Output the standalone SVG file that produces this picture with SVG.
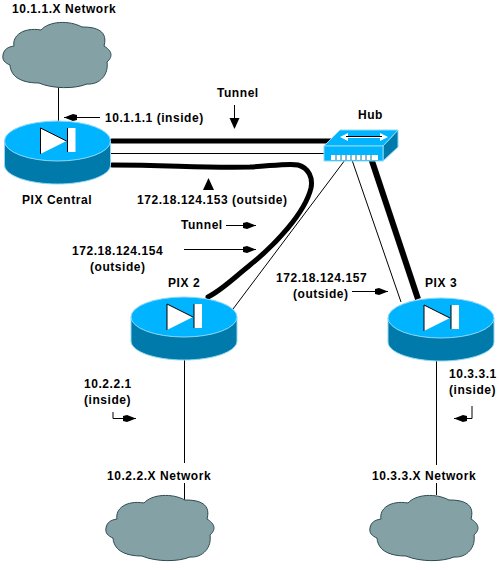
<svg xmlns="http://www.w3.org/2000/svg" xmlns:xlink="http://www.w3.org/1999/xlink" width="499" height="570" viewBox="0 0 499 570">
<style>
text{font-family:"Liberation Sans",Arial,sans-serif;font-weight:bold;font-size:12px;fill:#000;letter-spacing:.55px}
.thin{fill:none;stroke:#000;stroke-width:1}
.arrow{fill:none;stroke:#000;stroke-width:1;marker-end:url(#head)}
.thick{fill:none;stroke:#000;stroke-width:5;stroke-linecap:round;stroke-linejoin:round}
.cloud{fill:#84a1a5;stroke:#2c4a50;stroke-width:1}
.top{fill:#00b4ff;stroke:#8fd8f5;stroke-width:1}
.side{fill:#0079ab;stroke:#8fd8f5;stroke-width:1}
.w{fill:#fff}
</style>
<defs>
<marker id="head" markerUnits="userSpaceOnUse" markerWidth="14" markerHeight="10" refX="13" refY="4" orient="auto"><path d="M0,1.500 L4,0.600 L13,4 L4,7.400 L0,6.500Z" fill="#000"/></marker>
<path id="cloudshape" class="cloud" d="M0,33 C1,27 5,25 11,24 C9,14 20,5 38,8 C46,-1 66,-2 79,5 C88,5 106,6 101,24 C108,28 111,34 104,40 C106,52 97,63 84,62 C72,67 50,67 36,61 C22,61 8,57 7,43 C2,41 -1,38 0,33Z"/>
<g id="pixshape">
<path class="side" d="M-53,0 L-53,24 C-53,35 -28,43 0,43 C28,43 53,35 53,24 L53,0Z"/>
<ellipse class="top" cx="0" cy="0" rx="53" ry="20"/>
<path class="w" d="M-17,-13 L9,0 L-17,13Z"/>
<path d="M-17,-13 L-17,13 M-17,-13 L9,0" fill="none" stroke="#000" stroke-width="1"/>
<rect class="w" x="10" y="-13" width="8" height="24"/>
<path d="M10,-13 V11" stroke="#000" stroke-width="1"/>
</g>
</defs>
<g id="connectors">
<path class="thin" d="M58.500,87 V122"/>
<path class="thick" d="M112,141 H332"/>
<path class="thin" d="M110,153.500 H325"/>
<path class="thick" d="M112,165 C170,165 200,168 250,167 C270,166 290,163 298,165 C309,168 313,178 311,188 C305,213 275,245 250,265 C235,277 222,290 208,297"/>
<path class="thin" d="M345,160 L233,309"/>
<path class="thin" d="M352,160 L401,302"/>
<path class="thick" style="stroke-width:6;stroke-linecap:butt" d="M371,158 L418,299"/>
<path class="thin" d="M184.500,359 V463 M184.500,483 V500"/>
<path class="thin" d="M436.500,360 V465 M436.500,483 V495"/>
<path class="arrow" d="M100,117.500 H64"/>
<path class="thin" d="M234.500,105 V120"/>
<path d="M229.500,118 H239.500 L234.500,129Z"/>
<path d="M208.500,178 L203,190 H214Z"/>
<path class="arrow" d="M226,225.500 H256"/>
<path class="arrow" d="M184,249.500 H256"/>
<path class="arrow" d="M352,291.500 H388"/>
<path class="arrow" d="M113,412 V418.500 H136"/>
<path class="arrow" d="M472,406 V418.500 H454"/>
</g>
<g id="cloud-central"><use xlink:href="#cloudshape" href="#cloudshape" transform="translate(3,22)"/><text x="12" y="13">10.1.1.X Network</text></g>
<g id="cloud-2"><use xlink:href="#cloudshape" href="#cloudshape" transform="translate(106,495)"/><text x="107" y="480">10.2.2.X Network</text></g>
<g id="cloud-3"><use xlink:href="#cloudshape" href="#cloudshape" transform="translate(370,495)"/><text x="372" y="480">10.3.3.X Network</text></g>
<g id="pix-central"><use xlink:href="#pixshape" href="#pixshape" transform="translate(57.500,141)"/><text x="22" y="204">PIX Central</text></g>
<g id="pix-2"><use xlink:href="#pixshape" href="#pixshape" transform="translate(184,317)"/><text x="168" y="287">PIX 2</text></g>
<g id="pix-3"><use xlink:href="#pixshape" href="#pixshape" transform="translate(441,318)"/><text x="425" y="287">PIX 3</text></g>
<g id="hub">
<path class="side" d="M383,146 L398,130 V147 L383,161Z"/>
<path class="top" d="M324,146 L340,130 H398 L383,146Z"/>
<rect class="top" x="324" y="146" width="59" height="15"/>
<path class="w" d="M331,155h47v5h-47z"/>
<path d="M336,155v5M341,155v5M346,155v5M351,155v5M356,155v5M361,155v5M366,155v5M371,155v5" stroke="#0079ab" stroke-width="1"/>
<path class="w" d="M340,137 L348,133 V136 H380 V133 L388,137 L380,141 V138 H348 V141Z"/>
<path d="M346,136.500 H382" stroke="#000" stroke-width="1"/>
<text x="358" y="119">Hub</text>
</g>
<g id="labels">
<text x="105" y="122">10.1.1.1 (inside)</text>
<text x="217" y="97">Tunnel</text>
<text x="137" y="204">172.18.124.153 (outside)</text>
<text x="181" y="229">Tunnel</text>
<text x="72" y="255">172.18.124.154</text>
<text x="90" y="271">(outside)</text>
<text x="276" y="282">172.18.124.157</text>
<text x="293" y="298">(outside)</text>
<text x="84" y="388">10.2.2.1</text>
<text x="84" y="404">(inside)</text>
<text x="449" y="378">10.3.3.1</text>
<text x="449" y="394">(inside)</text>
</g>
</svg>
